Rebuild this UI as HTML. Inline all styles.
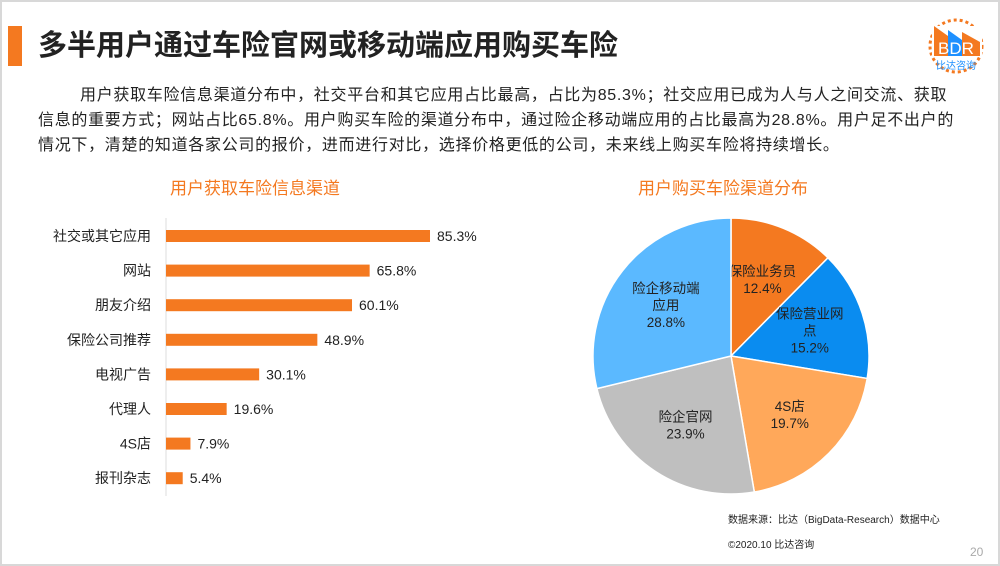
<!DOCTYPE html>
<html><head><meta charset="utf-8"><style>
body{margin:0;width:1000px;height:566px;background:#fff;overflow:hidden;font-family:"Liberation Sans","Noto Sans CJK SC",sans-serif;position:relative}
.abs{position:absolute}
</style></head><body>
<div class="abs" style="left:0;top:0;width:996px;height:562px;border:2px solid #d8d8d8;"></div>
<div class="abs" style="left:8px;top:26px;width:14px;height:40px;background:#F47920"></div>
<div class="abs" style="left:38px;top:26px;font-size:29px;font-weight:bold;color:#222;line-height:40px">多半用户通过车险官网或移动端应用购买车险</div>
<div class="abs" style="left:918px;top:14px;width:72px;height:60px">
<svg width="72" height="60"><circle cx="38" cy="32" r="26" fill="none" stroke="#F47920" stroke-width="3" stroke-dasharray="3 3"/>
<rect x="14" y="12" width="50" height="30" fill="#fff"/>
<polygon points="16,42 16,12 30,22 30,42" fill="#F47920"/><polygon points="30,42 30,16 44,26 44,42" fill="#1E90FF"/><polygon points="44,42 44,18 62,28 62,42" fill="#F47920"/>
<text x="38" y="40" text-anchor="middle" font-size="17" fill="#fff" font-family="Liberation Sans">BDR</text>
<text x="38" y="55" text-anchor="middle" font-size="10" fill="#1E90FF" font-family="Noto Sans CJK SC">比达咨询</text></svg></div>
<div class="abs" style="left:38px;top:83px;width:960px;font-size:16px;letter-spacing:0.7px;line-height:25px;color:#222;white-space:nowrap"><span style="display:inline-block;width:42px"></span>用户获取车险信息渠道分布中，社交平台和其它应用占比最高，占比为85.3%；社交应用已成为人与人之间交流、获取<br>信息的重要方式；网站占比65.8%。用户购买车险的渠道分布中，通过险企移动端应用的占比最高为28.8%。用户足不出户的<br>情况下，清楚的知道各家公司的报价，进而进行对比，选择价格更低的公司，未来线上购买车险将持续增长。</div>
<div class="abs" style="left:170px;top:174px;font-size:17px;color:#F47920">用户获取车险信息渠道</div>
<div class="abs" style="left:638px;top:174px;font-size:17px;color:#F47920">用户购买车险渠道分布</div>
<svg class="abs" style="left:0;top:0" width="1000" height="566" id="charts"></svg>
<div class="abs" style="left:728px;top:511px;font-size:10px;color:#222">数据来源：比达（BigData-Research）数据中心</div>
<div class="abs" style="left:728px;top:536px;font-size:10px;color:#222">©2020.10 比达咨询</div>
<div class="abs" style="left:970px;top:545px;font-size:12px;color:#aaa">20</div>
<script>
const barCats=["社交或其它应用","网站","朋友介绍","保险公司推荐","电视广告","代理人","4S店","报刊杂志"];
const barVals=[85.3,65.8,60.1,48.9,30.1,19.6,7.9,5.4];
const pieCats=["保险业务员","保险营业网点","4S店","险企官网","险企移动端应用"];
const pieVals=[12.4,15.2,19.7,23.9,28.8];
const pieColors=["#F47920","#0A8CF0","#FFA85A","#BFBFBF","#5BB9FF"];
const NS="http://www.w3.org/2000/svg";
const svg=document.getElementById('charts');
function mk(t,a){const e=document.createElementNS(NS,t);for(const k in a)e.setAttribute(k,a[k]);svg.appendChild(e);return e;}
const x0=166,xs=v=>x0+v*3.095,yc=i=>236+i*34.6;
const ax=mk('line',{x1:x0,y1:218,x2:x0,y2:496,stroke:'#ddd'});


barCats.forEach((c,i)=>{
 const r=mk('rect',{x:x0,y:yc(i)-6,width:xs(barVals[i])-x0,height:12,fill:'#F47920'});
 
 
 const l=mk('text',{x:151,y:yc(i)+5,'text-anchor':'end','font-size':14,fill:'#222'});l.textContent=c;
 
 
 const v=mk('text',{x:xs(barVals[i])+7,y:yc(i)+5,'font-size':14,fill:'#222'});v.textContent=barVals[i].toFixed(1)+'%';
 
 
});
const cx=731,cy=356,R=138;const tot=pieVals.reduce((a,b)=>a+b,0);let a=-Math.PI/2;
const lblTxt=[["保险业务员"],["保险营业网","点"],["4S店"],["险企官网"],["险企移动端","应用"]];
pieVals.forEach((v,i)=>{
 const b=a+v/tot*2*Math.PI;
 const p=mk('path',{d:`M${cx},${cy}L${cx+R*Math.cos(a)},${cy+R*Math.sin(a)}A${R},${R} 0 ${b-a>Math.PI?1:0} 1 ${cx+R*Math.cos(b)},${cy+R*Math.sin(b)}Z`,fill:pieColors[i],stroke:'#fff','stroke-width':1.5});
 
 
 const m=(a+b)/2;const lx=cx+R*0.6*Math.cos(m),ly=cy+R*0.6*Math.sin(m);
 const lines=lblTxt[i].concat([v.toFixed(1)+'%']);
 lines.forEach((t,j)=>{const e=mk('text',{x:lx,y:ly+(j-(lines.length-1)/2)*17+5,'text-anchor':'middle','font-size':13.5,fill:'#222'});e.textContent=t;
 
 });
 a=b;
});
</script>
</body></html>
